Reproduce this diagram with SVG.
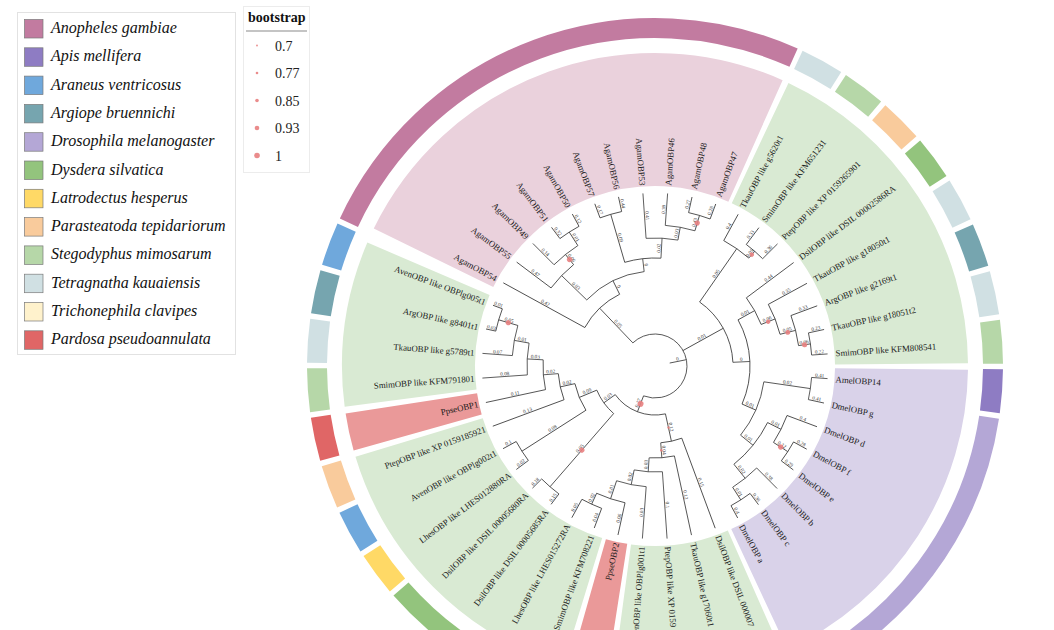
<svg xmlns="http://www.w3.org/2000/svg" width="1054" height="630" viewBox="0 0 1054 630">
<style>
.br{fill:none;stroke:#2e2e2e;stroke-width:0.75}
.bl{font-family:"Liberation Serif",serif;font-size:5.2px;fill:#333;text-anchor:middle}
.lf{font-family:"Liberation Serif",serif;font-size:8.8px;fill:#1a1a1a}
.hl{fill:none;stroke-width:133}
.rg{fill:none;stroke-width:20}
.dt{fill:#e88080;fill-opacity:0.9}
.lg{font-family:"Liberation Serif",serif;font-size:16px;font-style:italic;fill:#111}
.sq{stroke:#7a7a7a;stroke-width:0.7}
.bt{font-family:"Liberation Serif",serif;font-size:14px;fill:#222}
</style>
<rect width="1054" height="630" fill="#ffffff"/>
<g transform="translate(655,366)">
<g id="highlights">
<circle class="hl" r="246.5" pathLength="360" stroke="#d9ead3" stroke-dasharray="64.25 360" transform="rotate(295.24)"/>
<circle class="hl" r="246.5" pathLength="360" stroke="#d9d2e9" stroke-dasharray="64.25 360" transform="rotate(0.69)"/>
<circle class="hl" r="246.5" pathLength="360" stroke="#d9ead3" stroke-dasharray="31.53 360" transform="rotate(66.14)"/>
<circle class="hl" r="246.5" pathLength="360" stroke="#ea9999" stroke-dasharray="6.98 360" transform="rotate(98.87)"/>
<circle class="hl" r="246.5" pathLength="360" stroke="#d9ead3" stroke-dasharray="56.07 360" transform="rotate(107.06)"/>
<circle class="hl" r="246.5" pathLength="360" stroke="#ea9999" stroke-dasharray="6.98 360" transform="rotate(164.33)"/>
<circle class="hl" r="246.5" pathLength="360" stroke="#d9ead3" stroke-dasharray="30.73 360" transform="rotate(172.51)"/>
<circle class="hl" r="246.5" pathLength="360" stroke="#ead1dc" stroke-dasharray="88.0 360" transform="rotate(206.04)"/>
</g>
<g id="species-ring">
<circle class="rg" r="338" pathLength="360" stroke="#b6d7a8" stroke-dasharray="7.28 360" transform="rotate(352.36)"/>
<circle class="rg" r="338" pathLength="360" stroke="#8e7cc3" stroke-dasharray="7.28 360" transform="rotate(0.54)"/>
<circle class="rg" r="338" pathLength="360" stroke="#b4a7d6" stroke-dasharray="56.37 360" transform="rotate(8.72)"/>
<circle class="rg" r="338" pathLength="360" stroke="#93c47d" stroke-dasharray="7.28 360" transform="rotate(66.0)"/>
<circle class="rg" r="338" pathLength="360" stroke="#d0e0e3" stroke-dasharray="7.28 360" transform="rotate(74.18)"/>
<circle class="rg" r="338" pathLength="360" stroke="#f9cb9c" stroke-dasharray="7.28 360" transform="rotate(82.36)"/>
<circle class="rg" r="338" pathLength="360" stroke="#6fa8dc" stroke-dasharray="7.28 360" transform="rotate(90.54)"/>
<circle class="rg" r="338" pathLength="360" stroke="#e06666" stroke-dasharray="7.28 360" transform="rotate(98.72)"/>
<circle class="rg" r="338" pathLength="360" stroke="#b6d7a8" stroke-dasharray="7.28 360" transform="rotate(106.91)"/>
<circle class="rg" r="338" pathLength="360" stroke="#ffd966" stroke-dasharray="7.28 360" transform="rotate(115.09)"/>
<circle class="rg" r="338" pathLength="360" stroke="#93c47d" stroke-dasharray="15.46 360" transform="rotate(123.27)"/>
<circle class="rg" r="338" pathLength="360" stroke="#ffd966" stroke-dasharray="7.28 360" transform="rotate(139.63)"/>
<circle class="rg" r="338" pathLength="360" stroke="#6fa8dc" stroke-dasharray="7.28 360" transform="rotate(147.81)"/>
<circle class="rg" r="338" pathLength="360" stroke="#f9cb9c" stroke-dasharray="7.28 360" transform="rotate(156.0)"/>
<circle class="rg" r="338" pathLength="360" stroke="#e06666" stroke-dasharray="7.28 360" transform="rotate(164.18)"/>
<circle class="rg" r="338" pathLength="360" stroke="#b6d7a8" stroke-dasharray="7.28 360" transform="rotate(172.36)"/>
<circle class="rg" r="338" pathLength="360" stroke="#d0e0e3" stroke-dasharray="7.28 360" transform="rotate(180.54)"/>
<circle class="rg" r="338" pathLength="360" stroke="#76a5af" stroke-dasharray="7.28 360" transform="rotate(188.72)"/>
<circle class="rg" r="338" pathLength="360" stroke="#6fa8dc" stroke-dasharray="7.28 360" transform="rotate(196.91)"/>
<circle class="rg" r="338" pathLength="360" stroke="#c27ba0" stroke-dasharray="89.1 360" transform="rotate(205.09)"/>
<circle class="rg" r="338" pathLength="360" stroke="#d0e0e3" stroke-dasharray="7.28 360" transform="rotate(295.09)"/>
<circle class="rg" r="338" pathLength="360" stroke="#b6d7a8" stroke-dasharray="7.28 360" transform="rotate(303.27)"/>
<circle class="rg" r="338" pathLength="360" stroke="#f9cb9c" stroke-dasharray="7.28 360" transform="rotate(311.45)"/>
<circle class="rg" r="338" pathLength="360" stroke="#93c47d" stroke-dasharray="7.28 360" transform="rotate(319.63)"/>
<circle class="rg" r="338" pathLength="360" stroke="#d0e0e3" stroke-dasharray="7.28 360" transform="rotate(327.81)"/>
<circle class="rg" r="338" pathLength="360" stroke="#76a5af" stroke-dasharray="7.28 360" transform="rotate(336.0)"/>
<circle class="rg" r="338" pathLength="360" stroke="#d0e0e3" stroke-dasharray="7.28 360" transform="rotate(344.18)"/>
</g>
<g id="connectors" class="br">
<line x1="15" x2="32" transform="rotate(348.6)"/>
<line x1="32" x2="80" transform="rotate(226.245)"/>
<line x1="32" x2="78" transform="rotate(331.07)"/>
<line x1="32" x2="49" transform="rotate(110.97)"/>
<line x1="80" x2="173" transform="rotate(208.73)"/>
<line x1="80" x2="95" transform="rotate(243.76)"/>
<line x1="95" x2="130" transform="rotate(224.07)"/>
<line x1="130" x2="173" transform="rotate(216.91)"/>
<line x1="130" x2="143" transform="rotate(231.23)"/>
<line x1="143" x2="173" transform="rotate(225.09)"/>
<line x1="143" x2="159" transform="rotate(237.36)"/>
<line x1="159" x2="173" transform="rotate(233.27)"/>
<line x1="159" x2="173" transform="rotate(241.45)"/>
<line x1="95" x2="108" transform="rotate(263.45)"/>
<line x1="108" x2="158" transform="rotate(253.73)"/>
<line x1="158" x2="173" transform="rotate(249.64)"/>
<line x1="158" x2="173" transform="rotate(257.82)"/>
<line x1="108" x2="128" transform="rotate(273.16)"/>
<line x1="128" x2="173" transform="rotate(266)"/>
<line x1="128" x2="141" transform="rotate(280.32)"/>
<line x1="141" x2="173" transform="rotate(274.18)"/>
<line x1="141" x2="157" transform="rotate(286.46)"/>
<line x1="157" x2="173" transform="rotate(282.36)"/>
<line x1="157" x2="173" transform="rotate(290.55)"/>
<line x1="78" x2="143" transform="rotate(304.87)"/>
<line x1="143" x2="173" transform="rotate(298.73)"/>
<line x1="143" x2="152" transform="rotate(311)"/>
<line x1="152" x2="173" transform="rotate(306.91)"/>
<line x1="152" x2="173" transform="rotate(315.09)"/>
<line x1="78" x2="95" transform="rotate(357.28)"/>
<line x1="95" x2="114" transform="rotate(330.94)"/>
<line x1="114" x2="173" transform="rotate(323.27)"/>
<line x1="114" x2="129" transform="rotate(338.61)"/>
<line x1="129" x2="173" transform="rotate(331.45)"/>
<line x1="129" x2="145" transform="rotate(345.78)"/>
<line x1="145" x2="173" transform="rotate(339.64)"/>
<line x1="145" x2="157" transform="rotate(351.91)"/>
<line x1="157" x2="173" transform="rotate(347.82)"/>
<line x1="157" x2="173" transform="rotate(356)"/>
<line x1="95" x2="110" transform="rotate(23.61)"/>
<line x1="110" x2="157" transform="rotate(8.27)"/>
<line x1="157" x2="173" transform="rotate(4.18)"/>
<line x1="157" x2="173" transform="rotate(12.36)"/>
<line x1="110" x2="126" transform="rotate(38.95)"/>
<line x1="126" x2="141" transform="rotate(26.68)"/>
<line x1="141" x2="173" transform="rotate(20.55)"/>
<line x1="141" x2="158" transform="rotate(32.82)"/>
<line x1="158" x2="173" transform="rotate(28.73)"/>
<line x1="158" x2="173" transform="rotate(36.91)"/>
<line x1="126" x2="144" transform="rotate(51.23)"/>
<line x1="144" x2="173" transform="rotate(45.09)"/>
<line x1="144" x2="159" transform="rotate(57.36)"/>
<line x1="159" x2="173" transform="rotate(53.27)"/>
<line x1="159" x2="173" transform="rotate(61.45)"/>
<line x1="49" x2="77" transform="rotate(77.69)"/>
<line x1="77" x2="173" transform="rotate(69.64)"/>
<line x1="77" x2="92" transform="rotate(85.75)"/>
<line x1="92" x2="173" transform="rotate(77.82)"/>
<line x1="92" x2="106" transform="rotate(93.67)"/>
<line x1="106" x2="173" transform="rotate(86)"/>
<line x1="106" x2="121" transform="rotate(101.34)"/>
<line x1="121" x2="173" transform="rotate(94.18)"/>
<line x1="121" x2="140" transform="rotate(108.5)"/>
<line x1="140" x2="173" transform="rotate(102.36)"/>
<line x1="140" x2="152" transform="rotate(114.64)"/>
<line x1="152" x2="173" transform="rotate(110.55)"/>
<line x1="152" x2="173" transform="rotate(118.73)"/>
<line x1="49" x2="63" transform="rotate(144.23)"/>
<line x1="63" x2="160" transform="rotate(131)"/>
<line x1="160" x2="173" transform="rotate(126.91)"/>
<line x1="160" x2="173" transform="rotate(135.09)"/>
<line x1="63" x2="82" transform="rotate(157.46)"/>
<line x1="82" x2="158" transform="rotate(147.36)"/>
<line x1="158" x2="173" transform="rotate(143.27)"/>
<line x1="158" x2="173" transform="rotate(151.45)"/>
<line x1="82" x2="97" transform="rotate(167.57)"/>
<line x1="97" x2="173" transform="rotate(159.64)"/>
<line x1="97" x2="112" transform="rotate(175.49)"/>
<line x1="112" x2="173" transform="rotate(167.82)"/>
<line x1="112" x2="128" transform="rotate(183.16)"/>
<line x1="128" x2="173" transform="rotate(176)"/>
<line x1="128" x2="143" transform="rotate(190.32)"/>
<line x1="143" x2="173" transform="rotate(184.18)"/>
<line x1="143" x2="163" transform="rotate(196.46)"/>
<line x1="163" x2="173" transform="rotate(192.36)"/>
<line x1="163" x2="173" transform="rotate(200.55)"/>
<circle r="32" pathLength="360" stroke-dasharray="244.73 360" transform="rotate(226.245)"/>
<circle r="80" pathLength="360" stroke-dasharray="35.03 360" transform="rotate(208.73)"/>
<circle r="95" pathLength="360" stroke-dasharray="39.38 360" transform="rotate(224.07)"/>
<circle r="130" pathLength="360" stroke-dasharray="14.32 360" transform="rotate(216.91)"/>
<circle r="143" pathLength="360" stroke-dasharray="12.27 360" transform="rotate(225.09)"/>
<circle r="159" pathLength="360" stroke-dasharray="8.18 360" transform="rotate(233.27)"/>
<circle r="108" pathLength="360" stroke-dasharray="19.43 360" transform="rotate(253.73)"/>
<circle r="158" pathLength="360" stroke-dasharray="8.18 360" transform="rotate(249.64)"/>
<circle r="128" pathLength="360" stroke-dasharray="14.32 360" transform="rotate(266)"/>
<circle r="141" pathLength="360" stroke-dasharray="12.28 360" transform="rotate(274.18)"/>
<circle r="157" pathLength="360" stroke-dasharray="8.19 360" transform="rotate(282.36)"/>
<circle r="78" pathLength="360" stroke-dasharray="52.41 360" transform="rotate(304.87)"/>
<circle r="143" pathLength="360" stroke-dasharray="12.27 360" transform="rotate(298.73)"/>
<circle r="152" pathLength="360" stroke-dasharray="8.18 360" transform="rotate(306.91)"/>
<circle r="95" pathLength="360" stroke-dasharray="52.67 360" transform="rotate(330.94)"/>
<circle r="114" pathLength="360" stroke-dasharray="15.34 360" transform="rotate(323.27)"/>
<circle r="129" pathLength="360" stroke-dasharray="14.33 360" transform="rotate(331.45)"/>
<circle r="145" pathLength="360" stroke-dasharray="12.27 360" transform="rotate(339.64)"/>
<circle r="157" pathLength="360" stroke-dasharray="8.18 360" transform="rotate(347.82)"/>
<circle r="110" pathLength="360" stroke-dasharray="30.68 360" transform="rotate(8.27)"/>
<circle r="157" pathLength="360" stroke-dasharray="8.18 360" transform="rotate(4.18)"/>
<circle r="126" pathLength="360" stroke-dasharray="24.55 360" transform="rotate(26.68)"/>
<circle r="141" pathLength="360" stroke-dasharray="12.27 360" transform="rotate(20.55)"/>
<circle r="158" pathLength="360" stroke-dasharray="8.18 360" transform="rotate(28.73)"/>
<circle r="144" pathLength="360" stroke-dasharray="12.27 360" transform="rotate(45.09)"/>
<circle r="159" pathLength="360" stroke-dasharray="8.18 360" transform="rotate(53.27)"/>
<circle r="49" pathLength="360" stroke-dasharray="66.54 360" transform="rotate(77.69)"/>
<circle r="77" pathLength="360" stroke-dasharray="16.11 360" transform="rotate(69.64)"/>
<circle r="92" pathLength="360" stroke-dasharray="15.85 360" transform="rotate(77.82)"/>
<circle r="106" pathLength="360" stroke-dasharray="15.34 360" transform="rotate(86)"/>
<circle r="121" pathLength="360" stroke-dasharray="14.32 360" transform="rotate(94.18)"/>
<circle r="140" pathLength="360" stroke-dasharray="12.28 360" transform="rotate(102.36)"/>
<circle r="152" pathLength="360" stroke-dasharray="8.18 360" transform="rotate(110.55)"/>
<circle r="63" pathLength="360" stroke-dasharray="26.46 360" transform="rotate(131)"/>
<circle r="160" pathLength="360" stroke-dasharray="8.18 360" transform="rotate(126.91)"/>
<circle r="82" pathLength="360" stroke-dasharray="20.21 360" transform="rotate(147.36)"/>
<circle r="158" pathLength="360" stroke-dasharray="8.18 360" transform="rotate(143.27)"/>
<circle r="97" pathLength="360" stroke-dasharray="15.85 360" transform="rotate(159.64)"/>
<circle r="112" pathLength="360" stroke-dasharray="15.34 360" transform="rotate(167.82)"/>
<circle r="128" pathLength="360" stroke-dasharray="14.32 360" transform="rotate(176)"/>
<circle r="143" pathLength="360" stroke-dasharray="12.28 360" transform="rotate(184.18)"/>
<circle r="163" pathLength="360" stroke-dasharray="8.19 360" transform="rotate(192.36)"/>
</g>
<g id="branch-labels" class="bl">
<text x="23.5" y="-1" transform="rotate(348.6)">0</text>
<text x="55" y="-1" transform="rotate(331.07)">0.01</text>
<text x="-40.5" y="-1" transform="rotate(290.97)">0.17</text>
<text x="-56" y="-1" transform="rotate(406.245)">0.05</text>
<text x="-126.5" y="-1" transform="rotate(388.73)">0.42</text>
<text x="-87.5" y="-1" transform="rotate(423.76)">0</text>
<text x="-112.5" y="-1" transform="rotate(404.07)">0.03</text>
<text x="-151.5" y="-1" transform="rotate(396.91)">0.47</text>
<text x="-136.5" y="-1" transform="rotate(411.23)">0.06</text>
<text x="-158" y="-1" transform="rotate(405.09)">0.14</text>
<text x="-151" y="-1" transform="rotate(417.36)">0.01</text>
<text x="-166" y="-1" transform="rotate(413.27)">0.32</text>
<text x="-166" y="-1" transform="rotate(421.45)">0.12</text>
<text x="-101.5" y="-1" transform="rotate(443.45)">0</text>
<text x="-133" y="-1" transform="rotate(433.73)">0.09</text>
<text x="-165.5" y="-1" transform="rotate(429.64)">0.17</text>
<text x="-165.5" y="-1" transform="rotate(437.82)">0.44</text>
<text x="-150.5" y="-1" transform="rotate(446)">0.41</text>
<text x="118" y="-1" transform="rotate(273.16)">0.02</text>
<text x="134.5" y="-1" transform="rotate(280.32)">0.03</text>
<text x="157" y="-1" transform="rotate(274.18)">0.39</text>
<text x="149" y="-1" transform="rotate(286.46)">0.43</text>
<text x="165" y="-1" transform="rotate(282.36)">0.27</text>
<text x="165" y="-1" transform="rotate(290.55)">0.28</text>
<text x="110.5" y="-1" transform="rotate(304.87)">0.05</text>
<text x="158" y="-1" transform="rotate(298.73)">0.4</text>
<text x="147.5" y="-1" transform="rotate(311)">0.05</text>
<text x="162.5" y="-1" transform="rotate(306.91)">0.33</text>
<text x="162.5" y="-1" transform="rotate(315.09)">0.36</text>
<text x="86.5" y="-1" transform="rotate(357.28)">0</text>
<text x="104.5" y="-1" transform="rotate(330.94)">0.01</text>
<text x="143.5" y="-1" transform="rotate(323.27)">0.44</text>
<text x="121.5" y="-1" transform="rotate(338.61)">0.06</text>
<text x="151" y="-1" transform="rotate(331.45)">0.35</text>
<text x="137" y="-1" transform="rotate(345.78)">0.05</text>
<text x="159" y="-1" transform="rotate(339.64)">0.33</text>
<text x="151" y="-1" transform="rotate(351.91)">0.06</text>
<text x="165" y="-1" transform="rotate(347.82)">0.23</text>
<text x="165" y="-1" transform="rotate(356)">0.22</text>
<text x="102.5" y="-1" transform="rotate(23.61)">0.01</text>
<text x="133.5" y="-1" transform="rotate(8.27)">0.02</text>
<text x="165" y="-1" transform="rotate(4.18)">0.41</text>
<text x="165" y="-1" transform="rotate(12.36)">0.41</text>
<text x="118" y="-1" transform="rotate(38.95)">0.01</text>
<text x="133.5" y="-1" transform="rotate(26.68)">0.01</text>
<text x="157" y="-1" transform="rotate(20.55)">0.4</text>
<text x="149.5" y="-1" transform="rotate(32.82)">0.12</text>
<text x="165.5" y="-1" transform="rotate(28.73)">0.28</text>
<text x="165.5" y="-1" transform="rotate(36.91)">0.29</text>
<text x="135" y="-1" transform="rotate(51.23)">0.02</text>
<text x="158.5" y="-1" transform="rotate(45.09)">0.38</text>
<text x="151.5" y="-1" transform="rotate(57.36)">0.01</text>
<text x="166" y="-1" transform="rotate(53.27)">0.38</text>
<text x="166" y="-1" transform="rotate(61.45)">0.4</text>
<text x="63" y="-1" transform="rotate(77.69)">0.12</text>
<text x="125" y="-1" transform="rotate(69.64)">0.15</text>
<text x="84.5" y="-1" transform="rotate(85.75)">0.04</text>
<text x="132.5" y="-1" transform="rotate(77.82)">0.12</text>
<text x="139.5" y="-1" transform="rotate(86)">0.1</text>
<text x="-99" y="-1" transform="rotate(273.67)">0.03</text>
<text x="-113.5" y="-1" transform="rotate(281.34)">0.02</text>
<text x="-147" y="-1" transform="rotate(274.18)">0.03</text>
<text x="-130.5" y="-1" transform="rotate(288.5)">0.01</text>
<text x="-156.5" y="-1" transform="rotate(282.36)">0.06</text>
<text x="-146" y="-1" transform="rotate(294.64)">0.02</text>
<text x="-162.5" y="-1" transform="rotate(290.55)">0.04</text>
<text x="-162.5" y="-1" transform="rotate(298.73)">0.05</text>
<text x="-56" y="-1" transform="rotate(324.23)">0.03</text>
<text x="-111.5" y="-1" transform="rotate(311)">0.05</text>
<text x="-166.5" y="-1" transform="rotate(306.91)">0.15</text>
<text x="-166.5" y="-1" transform="rotate(315.09)">0.18</text>
<text x="-72.5" y="-1" transform="rotate(337.46)">0.09</text>
<text x="-120" y="-1" transform="rotate(327.36)">0.08</text>
<text x="-165.5" y="-1" transform="rotate(323.27)">0.02</text>
<text x="-165.5" y="-1" transform="rotate(331.45)">0.1</text>
<text x="-89.5" y="-1" transform="rotate(347.57)">0.02</text>
<text x="-135" y="-1" transform="rotate(339.64)">0.13</text>
<text x="-104.5" y="-1" transform="rotate(355.49)">0.02</text>
<text x="-142.5" y="-1" transform="rotate(347.82)">0.11</text>
<text x="-120" y="-1" transform="rotate(363.16)">0.03</text>
<text x="-150.5" y="-1" transform="rotate(356)">0.08</text>
<text x="-135.5" y="-1" transform="rotate(370.32)">0.01</text>
<text x="-158" y="-1" transform="rotate(364.18)">0.07</text>
<text x="-153" y="-1" transform="rotate(376.46)">0.05</text>
<text x="-168" y="-1" transform="rotate(372.36)">0.03</text>
<text x="-168" y="-1" transform="rotate(380.55)">0.01</text>
</g>
<g id="bootstrap-points">
<circle class="dt" cx="40.5" r="3" transform="rotate(110.97)"/>
<circle class="dt" cx="136.5" r="2.6" transform="rotate(231.23)"/>
<circle class="dt" cx="149" r="2.6" transform="rotate(286.46)"/>
<circle class="dt" cx="147.5" r="2.2" transform="rotate(311)"/>
<circle class="dt" cx="121.5" r="2.2" transform="rotate(338.61)"/>
<circle class="dt" cx="137" r="2.4" transform="rotate(345.78)"/>
<circle class="dt" cx="151" r="2.6" transform="rotate(351.91)"/>
<circle class="dt" cx="149.5" r="2.6" transform="rotate(32.82)"/>
<circle class="dt" cx="63" r="1.2" transform="rotate(77.69)"/>
<circle class="dt" cx="84.5" r="1.3" transform="rotate(85.75)"/>
<circle class="dt" cx="111.5" r="2.6" transform="rotate(131)"/>
<circle class="dt" cx="153" r="2.6" transform="rotate(196.46)"/>
</g>
<g id="leaf-labels" class="lf">
<g id="leaf-01"><text x="181" dy=".34em" transform="rotate(356)">SmimOBP like KFM808541</text></g>
<g id="leaf-02"><text x="181" dy=".34em" transform="rotate(4.18)">AmelOBP14</text></g>
<g id="leaf-03"><text x="181" dy=".34em" transform="rotate(12.36)">DmelOBP g</text></g>
<g id="leaf-04"><text x="181" dy=".34em" transform="rotate(20.55)">DmelOBP d</text></g>
<g id="leaf-05"><text x="181" dy=".34em" transform="rotate(28.73)">DmelOBP f</text></g>
<g id="leaf-06"><text x="181" dy=".34em" transform="rotate(36.91)">DmelOBP e</text></g>
<g id="leaf-07"><text x="181" dy=".34em" transform="rotate(45.09)">DmelOBP b</text></g>
<g id="leaf-08"><text x="181" dy=".34em" transform="rotate(53.27)">DmelOBP c</text></g>
<g id="leaf-09"><text x="181" dy=".34em" transform="rotate(61.45)">DmelOBP a</text></g>
<g id="leaf-10"><text x="181" dy=".34em" transform="rotate(69.64)">DsilOBP like DSIL 000007</text></g>
<g id="leaf-11"><text x="181" dy=".34em" transform="rotate(77.82)">TkauOBP like g17060t1</text></g>
<g id="leaf-12"><text x="181" dy=".34em" transform="rotate(86)">PtepOBP like XP 0159</text></g>
<g id="leaf-13"><text x="-181" dy=".34em" text-anchor="end" transform="rotate(274.18)">AvenOBP like OBPlg001t1</text></g>
<g id="leaf-14"><text x="-181" dy=".34em" text-anchor="end" transform="rotate(282.36)">PpseOBP2</text></g>
<g id="leaf-15"><text x="-181" dy=".34em" text-anchor="end" transform="rotate(290.55)">SmimOBP like KFM708221</text></g>
<g id="leaf-16"><text x="-181" dy=".34em" text-anchor="end" transform="rotate(298.73)">LhesOBP like LHES015272RA</text></g>
<g id="leaf-17"><text x="-181" dy=".34em" text-anchor="end" transform="rotate(306.91)">DsilOBP like DSIL 00005685RA</text></g>
<g id="leaf-18"><text x="-181" dy=".34em" text-anchor="end" transform="rotate(315.09)">DsilOBP like DSIL 00005680RA</text></g>
<g id="leaf-19"><text x="-181" dy=".34em" text-anchor="end" transform="rotate(323.27)">LhesOBP like LHES012880RA</text></g>
<g id="leaf-20"><text x="-181" dy=".34em" text-anchor="end" transform="rotate(331.45)">AvenOBP like OBPlg002t1</text></g>
<g id="leaf-21"><text x="-181" dy=".34em" text-anchor="end" transform="rotate(339.64)">PtepOBP like XP 0159185921</text></g>
<g id="leaf-22"><text x="-181" dy=".34em" text-anchor="end" transform="rotate(347.82)">PpseOBP1</text></g>
<g id="leaf-23"><text x="-181" dy=".34em" text-anchor="end" transform="rotate(356)">SmimOBP like KFM791801</text></g>
<g id="leaf-24"><text x="-181" dy=".34em" text-anchor="end" transform="rotate(364.18)">TkauOBP like g5789t1</text></g>
<g id="leaf-25"><text x="-181" dy=".34em" text-anchor="end" transform="rotate(372.36)">ArgOBP like g8401t1</text></g>
<g id="leaf-26"><text x="-181" dy=".34em" text-anchor="end" transform="rotate(380.55)">AvenOBP like OBPlg005t1</text></g>
<g id="leaf-27"><text x="-181" dy=".34em" text-anchor="end" transform="rotate(388.73)">AgamOBP54</text></g>
<g id="leaf-28"><text x="-181" dy=".34em" text-anchor="end" transform="rotate(396.91)">AgamOBP55</text></g>
<g id="leaf-29"><text x="-181" dy=".34em" text-anchor="end" transform="rotate(405.09)">AgamOBP49</text></g>
<g id="leaf-30"><text x="-181" dy=".34em" text-anchor="end" transform="rotate(413.27)">AgamOBP51</text></g>
<g id="leaf-31"><text x="-181" dy=".34em" text-anchor="end" transform="rotate(421.45)">AgamOBP50</text></g>
<g id="leaf-32"><text x="-181" dy=".34em" text-anchor="end" transform="rotate(429.64)">AgamOBP57</text></g>
<g id="leaf-33"><text x="-181" dy=".34em" text-anchor="end" transform="rotate(437.82)">AgamOBP56</text></g>
<g id="leaf-34"><text x="-181" dy=".34em" text-anchor="end" transform="rotate(446)">AgamOBP53</text></g>
<g id="leaf-35"><text x="181" dy=".34em" transform="rotate(274.18)">AgamOBP46</text></g>
<g id="leaf-36"><text x="181" dy=".34em" transform="rotate(282.36)">AgamOBP48</text></g>
<g id="leaf-37"><text x="181" dy=".34em" transform="rotate(290.55)">AgamOBP47</text></g>
<g id="leaf-38"><text x="181" dy=".34em" transform="rotate(298.73)">TkauOBP like g5620t1</text></g>
<g id="leaf-39"><text x="181" dy=".34em" transform="rotate(306.91)">SmimOBP like KFM651231</text></g>
<g id="leaf-40"><text x="181" dy=".34em" transform="rotate(315.09)">PtepOBP like XP 0159265901</text></g>
<g id="leaf-41"><text x="181" dy=".34em" transform="rotate(323.27)">DsilOBP like DSIL 00002586RA</text></g>
<g id="leaf-42"><text x="181" dy=".34em" transform="rotate(331.45)">TkauOBP like g18050t1</text></g>
<g id="leaf-43"><text x="181" dy=".34em" transform="rotate(339.64)">ArgOBP like g2169t1</text></g>
<g id="leaf-44"><text x="181" dy=".34em" transform="rotate(347.82)">TkauOBP like g18051t2</text></g>
</g>
</g>
<g id="species-legend">
<rect x="17.5" y="12.5" width="218" height="342" fill="#ffffff" stroke="#e2e2e2"/>
<rect class="sq" x="24.5" y="19.5" width="18.5" height="18.5" fill="#c27ba0"/>
<text class="lg" x="51" y="33">Anopheles gambiae</text>
<rect class="sq" x="24.5" y="47.8" width="18.5" height="18.5" fill="#8e7cc3"/>
<text class="lg" x="51" y="61.3">Apis mellifera</text>
<rect class="sq" x="24.5" y="76.1" width="18.5" height="18.5" fill="#6fa8dc"/>
<text class="lg" x="51" y="89.6">Araneus ventricosus</text>
<rect class="sq" x="24.5" y="104.4" width="18.5" height="18.5" fill="#76a5af"/>
<text class="lg" x="51" y="117.9">Argiope bruennichi</text>
<rect class="sq" x="24.5" y="132.7" width="18.5" height="18.5" fill="#b4a7d6"/>
<text class="lg" x="51" y="146.2">Drosophila melanogaster</text>
<rect class="sq" x="24.5" y="161" width="18.5" height="18.5" fill="#93c47d"/>
<text class="lg" x="51" y="174.5">Dysdera silvatica</text>
<rect class="sq" x="24.5" y="189.3" width="18.5" height="18.5" fill="#ffd966"/>
<text class="lg" x="51" y="202.8">Latrodectus hesperus</text>
<rect class="sq" x="24.5" y="217.6" width="18.5" height="18.5" fill="#f9cb9c"/>
<text class="lg" x="51" y="231.1">Parasteatoda tepidariorum</text>
<rect class="sq" x="24.5" y="245.9" width="18.5" height="18.5" fill="#b6d7a8"/>
<text class="lg" x="51" y="259.4">Stegodyphus mimosarum</text>
<rect class="sq" x="24.5" y="274.2" width="18.5" height="18.5" fill="#d0e0e3"/>
<text class="lg" x="51" y="287.7">Tetragnatha kauaiensis</text>
<rect class="sq" x="24.5" y="302.5" width="18.5" height="18.5" fill="#fff2cc"/>
<text class="lg" x="51" y="316">Trichonephila clavipes</text>
<rect class="sq" x="24.5" y="330.8" width="18.5" height="18.5" fill="#e06666"/>
<text class="lg" x="51" y="344.3">Pardosa pseudoannulata</text>
</g>
<g id="bootstrap-legend">
<rect x="243.5" y="6.5" width="66" height="166" fill="#ffffff" stroke="#ececec"/>
<text x="248" y="22" font-family="Liberation Serif, serif" font-size="14" font-weight="bold" fill="#111">bootstrap</text>
<line x1="246" y1="31" x2="307" y2="31" stroke="#8a8a8a" stroke-width="1.2"/>
<circle class="dt" cx="257" cy="45.5" r="0.9"/>
<text class="bt" x="275" y="50.5">0.7</text>
<circle class="dt" cx="257" cy="73" r="1.3"/>
<text class="bt" x="275" y="78">0.77</text>
<circle class="dt" cx="257" cy="100.5" r="1.8"/>
<text class="bt" x="275" y="105.5">0.85</text>
<circle class="dt" cx="257" cy="128" r="2.3"/>
<text class="bt" x="275" y="133">0.93</text>
<circle class="dt" cx="257" cy="155.5" r="2.8"/>
<text class="bt" x="275" y="160.5">1</text>
</g>
</svg>
